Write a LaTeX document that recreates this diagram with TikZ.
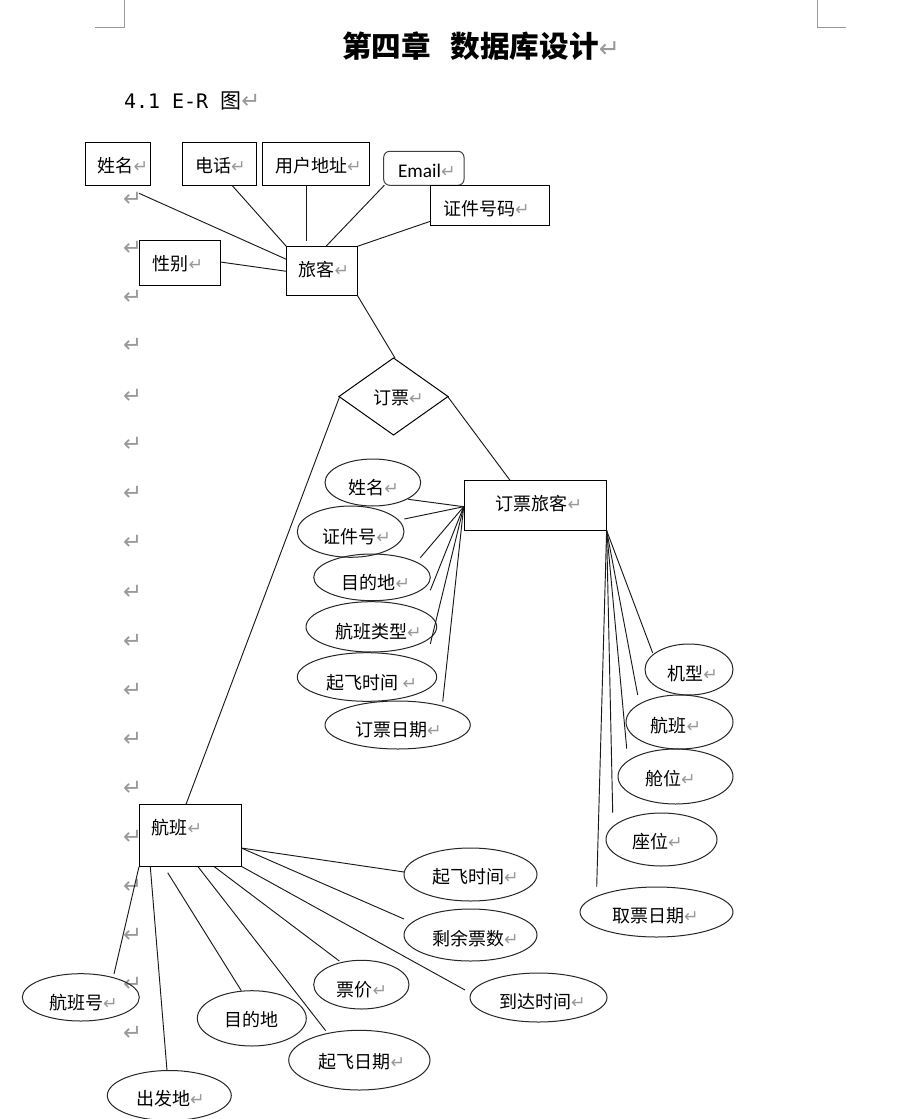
\documentclass[tikz,border=0pt]{standalone}
\usepackage{fontspec}
\usetikzlibrary{shapes.geometric}
\setmainfont{Noto Sans CJK SC}
\newfontfamily\markf{DejaVu Sans}
\newfontfamily\monof{DejaVu Sans Mono}
\newfontfamily\latf{Carlito}
\definecolor{markgray}{gray}{0.6}
\newcommand\retm[1][13]{\smash{\mdseries\markf\fontsize{#1}{#1}\selectfont\textcolor{markgray}{↵}}}
\newcommand\erlabel[3]{\smash{\raisebox{#2}{\makebox[0pt][l]{\hspace*{#1}#3}}}}
% style, name, x1, y1, x2, y2, text left, text mid y, text
\newcommand\ershape[9][boxn]{%
  \pgfmathsetmacro\ercx{(#3+#5)/2}%
  \pgfmathsetmacro\ercy{(#4+#6)/2}%
  \pgfmathsetmacro\erw{(#5-#3)*0.75}%
  \pgfmathsetmacro\erh{(#6-#4)*0.75}%
  \pgfmathsetmacro\erdx{(#7-\ercx)*0.75}%
  \pgfmathsetmacro\erdy{(\ercy-#8)*0.75-5.7}%
  \node[#1,minimum width=\erw pt,minimum height=\erh pt] (#2) at (\ercx,\ercy)
    {\erlabel{\erdx pt}{\erdy pt}{#9}};}
% name, start, end
\newcommand\erlink[3]{%
  \coordinate (#1-a) at (#2);
  \coordinate (#1-b) at (#3);
  \draw[conn] (#1-a) -- (#1-b);}
\tikzset{
  shapebase/.style={draw=black,line width=0.75pt,inner sep=0pt,outer sep=0pt,
    font=\fontsize{13.5}{16}\selectfont},
  boxn/.style={shapebase,rectangle},
  roundn/.style={shapebase,rectangle,rounded corners=4.5pt,draw=black!75},
  elln/.style={shapebase,ellipse,draw=black!85},
  dian/.style={shapebase,diamond,aspect=1.4},
  conn/.style={line width=0.7pt,draw=black!90},
  crop/.style={line width=0.7pt,draw=black!40},
  marknode/.style={inner sep=0pt,outer sep=0pt}
}
\begin{document}
\begin{tikzpicture}[x=0.75pt,y=-0.75pt]
\useasboundingbox (0,0) rectangle (897,1119);
\fill[white] (0,0) rectangle (897,1119);

% crop marks
\coordinate (cl1) at (124,0); \coordinate (cl2) at (124,27); \coordinate (cl3) at (95,27);
\coordinate (cr1) at (817,0); \coordinate (cr2) at (817,27); \coordinate (cr3) at (846,27);
\draw[crop] (cl1) -- (cl2) -- (cl3);
\draw[crop] (cr1) -- (cr2) -- (cr3);

% headings
\node[marknode,anchor=base west] (title) at (342,58)
  {\fontsize{22.2}{26}\selectfont\bfseries 第四章\hspace{15pt}数据库设计\retm[19]};
\node[marknode,anchor=base west] (sect) at (124,109)
  {\monof\fontsize{15}{18}\selectfont 4.1 E-R {\rmfamily\fontsize{15.75}{18}\selectfont 图}\retm[17]};

% paragraph marks down the left margin
\foreach \i/\my in {1/199,2/248,3/297,4/345,5/395,6/443,7/492,8/541,9/591,10/640,
                    11/689,12/738,13/787,14/836,15/885,16/934,17/983,18/1032}{
  \node[marknode,anchor=base west] (pm\i) at (123,\my+8) {\retm[17]};
}

% 旅客 group
\ershape{xm}{85.3}{142.3}{150.7}{185.3}{97.5}{165}{姓名\retm}
\ershape{dh}{182.3}{142.3}{256.3}{185.3}{195}{165}{电话\retm}
\ershape{dz}{262.3}{142.3}{369.3}{185.3}{275}{165}{用户地址\retm}
\ershape[roundn]{em}{383.7}{151.3}{464}{185.3}{398}{170}{{\latf\fontsize{14.5}{16}\selectfont Email}\retm}
\ershape{zj}{430.3}{185.3}{549.3}{225.3}{443}{208}{证件号码\retm}
\ershape{xb}{139.3}{240.3}{220.3}{285.3}{152.7}{263}{性别\retm}
\ershape{lk}{286.3}{246.3}{357.3}{295.3}{298.7}{269}{旅客\retm}

\erlink{l1}{139,193.3}{286.3,259.3}
\erlink{l2}{232.3,185.7}{286.3,246.3}
\erlink{l3}{306.7,185.7}{306.7,240.7}
\erlink{l4}{384.3,185.3}{326,246.3}
\erlink{l5}{430.3,221.3}{357.5,246.3}
\erlink{l6}{220.3,262}{286.3,271.3}

% 订票
\ershape[dian]{dp}{339}{358}{448}{435}{373}{397}{订票\retm}
\erlink{l7}{357.3,295.3}{395,358}
\erlink{l8}{339.5,397}{186,804.3}
\erlink{l9}{448,397}{510,480.3}

% 订票旅客 group
\ershape{dl}{464.3}{480.3}{606.3}{530.3}{495.7}{503.3}{订票旅客\retm}
\ershape[elln]{a1}{325}{459}{420.7}{506}{348.3}{486.7}{姓名\retm}
\ershape[elln]{a2}{297.3}{506}{404}{557.3}{322.3}{535.5}{证件号\retm}
\ershape[elln]{a3}{313.7}{554}{430.3}{600.7}{341.7}{582.3}{目的地\retm}
\ershape[elln]{a4}{306}{601.7}{436.7}{652}{335}{630.7}{航班类型\retm}
\ershape[elln]{a5}{297.3}{652.7}{436.7}{701.3}{326.7}{681.7}{起飞时间 \retm}
\ershape[elln]{a6}{325}{701}{470.3}{749}{355}{729.3}{订票日期\retm}

\erlink{a1l}{408.3,499.3}{463.7,506.7}
\erlink{a2l}{404.3,519}{463.7,506.7}
\erlink{a3l}{420.3,557.7}{463.7,506.7}
\erlink{a4l}{430.3,590.3}{463.7,506.7}
\erlink{a5l}{430.3,644}{463.7,506.7}
\erlink{a6l}{442.7,701.7}{463.7,506.7}

\ershape[elln]{b1}{645}{644}{733}{695}{667.3}{672.7}{机型\retm}
\ershape[elln]{b2}{626}{695}{733}{749}{650.5}{725}{航班\retm}
\ershape[elln]{b3}{618}{749}{733}{804}{645}{778}{舱位\retm}
\ershape[elln]{b4}{606}{813}{717}{866}{632}{841}{座位\retm}
\ershape[elln]{b5}{580}{887}{733}{937}{612}{915}{取票日期\retm}

\erlink{b1l}{606.6,530.5}{652.7,653}
\erlink{b2l}{606.6,530.5}{637.7,695}
\erlink{b3l}{606.6,530.5}{626.7,748.5}
\erlink{b4l}{606.6,530.5}{612.7,812.7}
\erlink{b5l}{606.6,530.5}{596.7,886.7}

% 航班 group
\ershape{hb}{139.3}{804.3}{241.3}{866.3}{151.7}{827.3}{航班\retm}
\ershape[elln]{c1}{22.3}{973.7}{139.3}{1021}{49}{1002}{航班号\retm}
\ershape[elln]{c2}{107.3}{1070.5}{231.3}{1120.5}{136}{1098.3}{出发地\retm}
\ershape[elln]{c3}{197.3}{990.7}{306.3}{1046}{224.3}{1019.3}{目的地}
\ershape[elln]{c4}{288.7}{1030.3}{430}{1090}{318.7}{1060.7}{起飞日期\retm}
\ershape[elln]{c5}{313.7}{960.3}{409}{1009}{336.7}{989}{票价\retm}
\ershape[elln]{c6}{470}{973}{607}{1022}{499}{1001}{到达时间\retm}
\ershape[elln]{c7}{404}{909}{537}{961}{432}{938}{剩余票数\retm}
\ershape[elln]{c8}{404}{848}{537}{901}{432}{876}{起飞时间\retm}

\erlink{c1l}{139,866.7}{114,974}
\erlink{c2l}{150.3,866.7}{167,1070.5}
\erlink{c3l}{167.7,872.7}{241.3,990.7}
\erlink{c4l}{198,866.7}{325.7,1030.7}
\erlink{c5l}{214.3,866.7}{339.3,961}
\erlink{c6l}{242,866.7}{465,990}
\erlink{c7l}{241.3,848}{404,919}
\erlink{c8l}{241.3,848}{404,872}
\end{tikzpicture}
\end{document}
